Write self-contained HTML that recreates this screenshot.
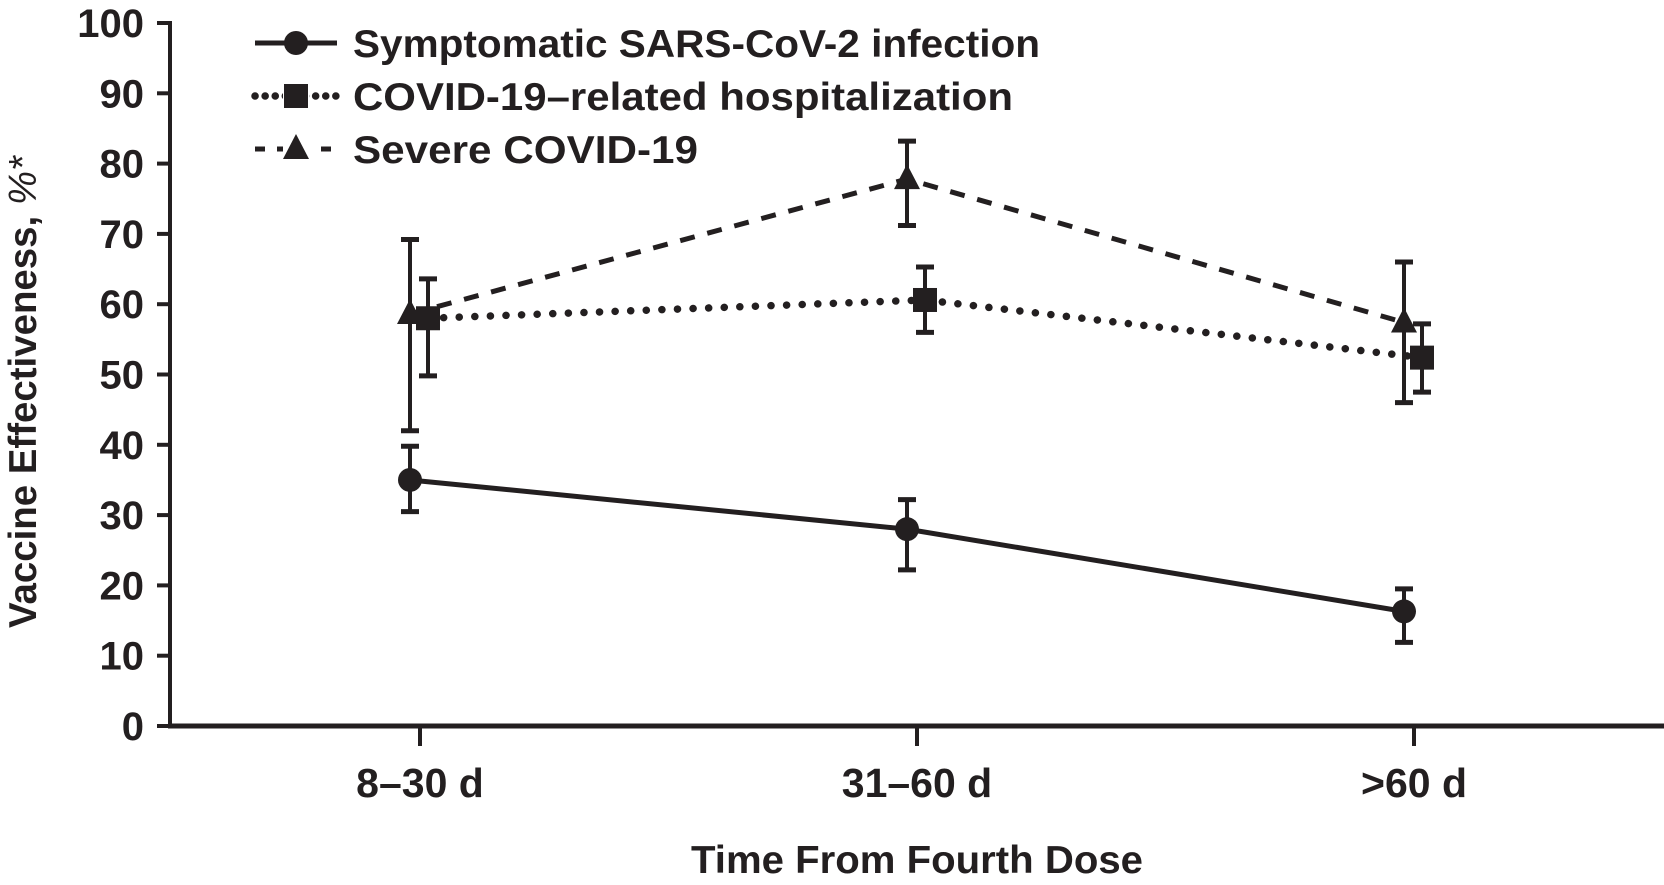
<!DOCTYPE html>
<html><head><meta charset="utf-8"><style>
html,body{margin:0;padding:0;background:#fff;}
svg{display:block;}
text{font-family:"Liberation Sans",sans-serif;font-weight:bold;fill:#231f20;}
</style></head><body>
<svg id="chart" width="1664" height="885" viewBox="0 0 1664 885"></svg>
<script>
const categories = ["8\u201330 d", "31\u201360 d", ">60 d"];
const yTicks = [0,10,20,30,40,50,60,70,80,90,100];
const symptomatic = [35, 28, 16.3];
const symptomaticLo = [30.5, 22.2, 11.9];
const symptomaticHi = [39.8, 32.2, 19.5];
const hospital = [58, 60.6, 52.4];
const hospitalLo = [49.8, 56, 47.5];
const hospitalHi = [63.6, 65.3, 57.2];
const severe = [58.6, 77.8, 57.4];
const severeLo = [42, 71.2, 46];
const severeHi = [69.2, 83.2, 66];

const C = "#231f20";
const NS = "http://www.w3.org/2000/svg";
const svg = document.getElementById('chart');
const X0 = 170, Y0 = 726, Y100 = 23;
const xPos = [420, 917, 1414];
function y(v){ return Y0 - (v/100)*(Y0-Y100); }
function x(i, off){ return xPos[i] + (off||0); }
function mk(tag, attrs, parent){
  const e = document.createElementNS(NS, tag);
  for (const k in attrs) e.setAttribute(k, attrs[k]);
  (parent||svg).appendChild(e);
  return e;
}
const axes = mk('g', {});


mk('line', {x1:X0, y1:Y100-2, x2:X0, y2:Y0+2, stroke:C, 'stroke-width':4}, axes);
mk('line', {x1:X0-2, y1:Y0, x2:1664, y2:Y0, stroke:C, 'stroke-width':5}, axes);
yTicks.forEach(t => {
  mk('line', {x1:X0-13, y1:y(t), x2:X0, y2:y(t), stroke:C, 'stroke-width':4}, axes);
  const tx = mk('text', {x:X0-26, y:y(t)+14, 'text-anchor':'end', 'font-size':40}, axes);
  
  
  tx.textContent = t;
});
categories.forEach((c, i) => {
  mk('line', {x1:x(i), y1:Y0, x2:x(i), y2:Y0+20, stroke:C, 'stroke-width':4}, axes);
  const tx = mk('text', {x:x(i), y:797, 'text-anchor':'middle', 'font-size':41}, axes);
  
  
  tx.textContent = c;
});
const xt = mk('text', {x:917, y:873, 'text-anchor':'middle', 'font-size':39, textLength:452, lengthAdjust:'spacingAndGlyphs'});


xt.textContent = "Time From Fourth Dose";
const yt = mk('text', {x:0, y:0, 'text-anchor':'middle', 'font-size':39, transform:'translate(36,392) rotate(-90)', textLength:472, lengthAdjust:'spacingAndGlyphs'});


yt.innerHTML = 'Vaccine Effectiveness, <tspan font-style="italic" font-weight="normal">%*</tspan>';

function marker(g, type, cx, cy){
  if (type === 'circle') return mk('circle', {cx:cx, cy:cy, r:12, fill:C}, g);
  if (type === 'square') return mk('rect', {x:cx-12, y:cy-12, width:24, height:24, fill:C}, g);
  return mk('polygon', {points:`${cx-13},${cy+10} ${cx+13},${cy+10} ${cx},${cy-15}`, fill:C}, g);
}
function series(name, vals, lo, hi, off, type, dash){
  const g = mk('g', {});
  
  
  const pts = vals.map((v,i)=>`${x(i,off)},${y(v)}`).join(' ');
  const attrs = {points:pts, fill:'none', stroke:C, 'stroke-width':dash==='dot'?7.5:5};
  if (dash==='dash') attrs['stroke-dasharray'] = '15 13';
  if (dash==='dot'){ attrs['stroke-dasharray'] = '0.1 15.5'; attrs['stroke-linecap']='round'; }
  mk('polyline', attrs, g);
  vals.forEach((v,i)=>{
    const cx = x(i,off);
    mk('line', {x1:cx, y1:y(lo[i]), x2:cx, y2:y(hi[i]), stroke:C, 'stroke-width':4}, g);
    mk('line', {x1:cx-9, y1:y(lo[i]), x2:cx+9, y2:y(lo[i]), stroke:C, 'stroke-width':5}, g);
    mk('line', {x1:cx-9, y1:y(hi[i]), x2:cx+9, y2:y(hi[i]), stroke:C, 'stroke-width':5}, g);
    const m = marker(g, type, cx, y(v));
    
    
  });
}
series('severe-series', severe, severeLo, severeHi, -10, 'triangle', 'dash');
series('hospitalization-series', hospital, hospitalLo, hospitalHi, 8, 'square', 'dot');
series('symptomatic-series', symptomatic, symptomaticLo, symptomaticHi, -10, 'circle', 'solid');

const legend = [
  ["Symptomatic SARS-CoV-2 infection", 'circle', 'solid', 687],
  ["COVID-19\u2013related hospitalization", 'square', 'dot', 660],
  ["Severe COVID-19", 'triangle', 'dash', 345]
];
legend.forEach((l, i) => {
  const g = mk('g', {});
  
  
  const cy = 43 + i*53;
  const a = {x1:255, y1:cy, x2:337, y2:cy, stroke:C, 'stroke-width':l[2]==='dot'?7.5:5};
  if (l[2]==='dash') a['stroke-dasharray']='10 12';
  if (l[2]==='dot'){ a['stroke-dasharray']='0.1 10'; a['stroke-linecap']='round'; }
  mk('line', a, g);
  if (l[2]!=='solid') mk('rect', {x:283, y:cy-16, width:26, height:32, fill:'#fff'}, g);
  marker(g, l[1], 296, cy);
  const t = mk('text', {x:353, y:cy+14, 'font-size':39, textLength:l[3], lengthAdjust:'spacingAndGlyphs'}, g);
  t.textContent = l[0];
});
</script>
</body></html>
